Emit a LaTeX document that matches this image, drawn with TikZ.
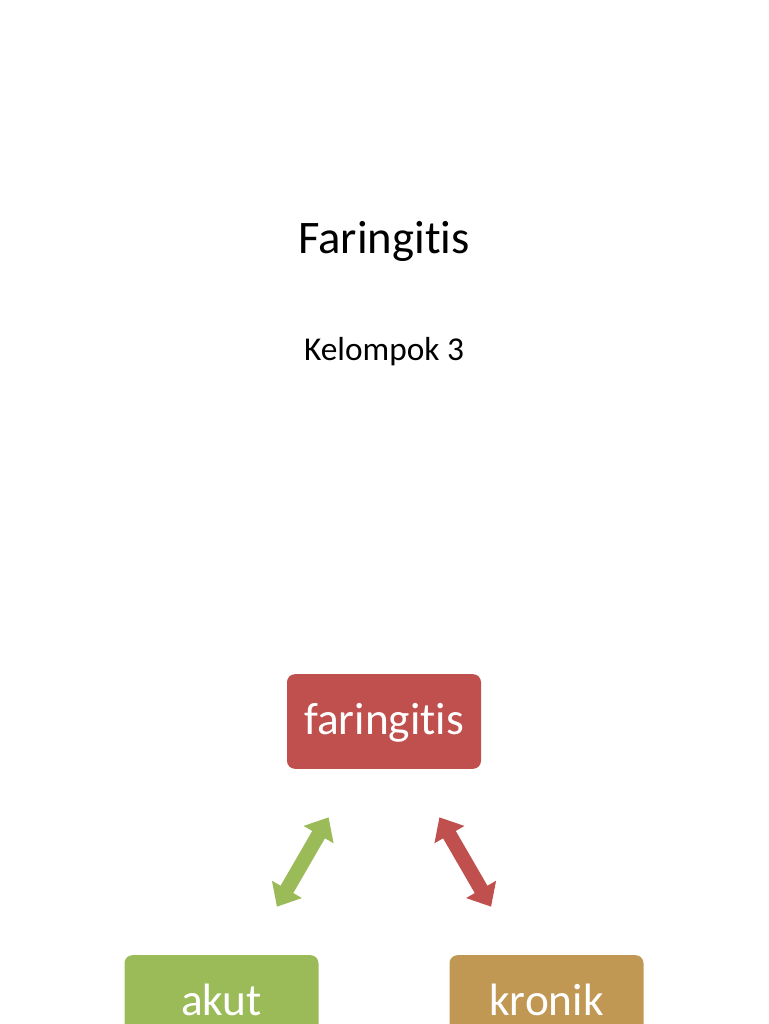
\documentclass[tikz,border=0pt]{standalone}
\usepackage{fontspec}
\setmainfont{Carlito}[Ligatures=NoCommon]
\usetikzlibrary{positioning,arrows.meta}
\definecolor{redbox}{RGB}{192,80,77}
\definecolor{greenbox}{RGB}{155,187,89}
\definecolor{tanbox}{RGB}{192,152,83}

\begin{document}
\begin{tikzpicture}[x=0.75pt,y=-0.75pt,
    box/.style={rounded corners=6pt, minimum width=145.5pt, minimum height=71pt, text=white,
        font=\fontsize{34}{40}\selectfont, text height=24pt, text depth=4pt},
    dblarrow/.style={line width=11pt, {Triangle[width=25pt,length=15pt]}-{Triangle[width=25pt,length=15pt]},
        shorten <=83pt, shorten >=83pt}]
    \useasboundingbox (0,0) rectangle (768,1024);
    \clip (0,0) rectangle (768,1024);

    % Title
    \node (title) at (384,241) {\fontsize{35}{42}\selectfont Faringitis};
    \node (subtitle) at (384,352) {\fontsize{25}{30}\selectfont Kelompok 3};

    % Boxes
    \node[box, fill=redbox] (faring) at (384,721.5) {faringitis};
    \node[box, fill=greenbox] (akut) at (221.5,1002.5) {akut};
    \node[box, fill=tanbox] (kronik) at (546.5,1002.5) {kronik};

    % Double arrows
    \draw[dblarrow, greenbox] (akut.center) -- (faring.center);
    \draw[dblarrow, redbox] (faring.center) -- (kronik.center);
\end{tikzpicture}
\end{document}
